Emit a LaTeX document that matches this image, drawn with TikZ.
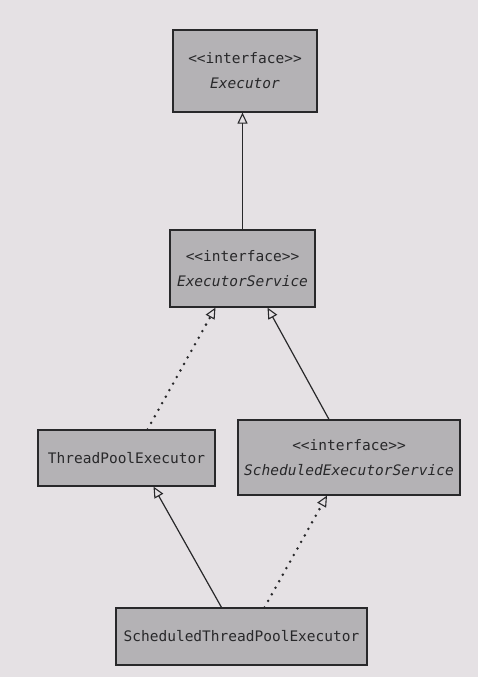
\documentclass[tikz,border=0pt]{standalone}
\usepackage{fontspec}
\setmonofont{DejaVu Sans Mono}
\usetikzlibrary{arrows.meta}
\definecolor{paper}{RGB}{229,225,228}
\definecolor{boxgray}{RGB}{180,178,181}
\definecolor{ink}{RGB}{40,40,42}

\begin{document}
\begin{tikzpicture}[
        x=1pt,y=-1pt,
        >={Triangle[open,length=11pt,width=10pt,line width=1.1pt]},
        cls/.style={draw=ink,line width=1.2pt,fill=boxgray,text=ink,align=center,
            font=\ttfamily\fontsize{14.5}{25}\selectfont,inner sep=0pt},
        extends/.style={->,ink,line width=1.2pt},
        implements/.style={->,ink,line width=2.8pt,line cap=round,dash pattern=on 0pt off 7.5pt},
        ]
        \fill[paper] (0,0) rectangle (478,677);
        \useasboundingbox (0,0) rectangle (478,677);
        \node[cls,minimum width=144pt,minimum height=82pt] (exec) at (245,71)
            {{<}{<}interface{>}{>}\\\textit{Executor}};
        \node[cls,minimum width=145pt,minimum height=77pt] (execsvc) at (242.5,268.5)
            {{<}{<}interface{>}{>}\\\textit{ExecutorService}};
        \node[cls,minimum width=177pt,minimum height=56pt] (tpe) at (126.5,458)
            {ThreadPoolExecutor};
        \node[cls,minimum width=222pt,minimum height=75pt] (ses) at (349,457.5)
            {{<}{<}interface{>}{>}\\\textit{ScheduledExecutorService}};
        \node[cls,minimum width=251pt,minimum height=57pt] (stpe) at (241.5,636.5)
            {ScheduledThreadPoolExecutor};
        \draw[extends] (execsvc.north) -- (execsvc.north |- exec.south);
        \draw[implements] ([xshift=21pt]tpe.north) -- ([xshift=-27pt]execsvc.south);
        \draw[extends] ([xshift=-20pt]ses.north) -- ([xshift=25pt]execsvc.south);
        \draw[extends] ([xshift=-20pt]stpe.north) -- ([xshift=27pt]tpe.south);
        \draw[implements] ([xshift=23pt]stpe.north) -- ([xshift=-22pt]ses.south);
\end{tikzpicture}
\end{document}
